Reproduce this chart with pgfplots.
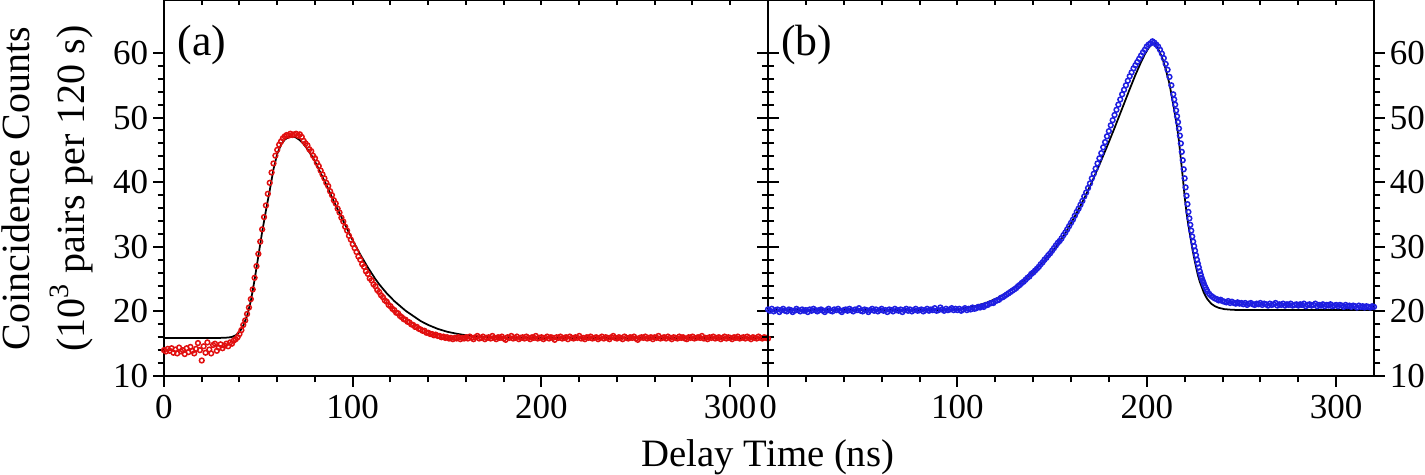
\documentclass[border=0pt]{standalone}
\usepackage{fontspec}
\setmainfont{Liberation Serif}
\usepackage{pgfplots}
\pgfplotsset{compat=1.18}

\definecolor{dred}{RGB}{225,15,15}
\definecolor{dblue}{RGB}{30,30,225}

\pgfplotsset{
  panel/.style={
    scale only axis, height=150.4pt,
    xmin=0, xmax=320, ymin=10, ymax=68.2,
    xtick={0,100,200,300}, minor x tick num=4,
    ytick={10,20,30,40,50,60}, minor y tick num=4,
    tick align=outside, xtick pos=bottom,
    major tick length=4.3pt, minor tick length=2.5pt,
    axis line style={line width=0.8pt},
    every tick/.style={black, line width=0.8pt},
    tick label style={font=\fontsize{14}{16}\selectfont},
    yticklabel style={inner sep=1.8pt},
    /pgf/number format/assume math mode=true,
    clip=true,
  },
  topticks/.style={
    scale only axis, height=150.4pt,
    xmin=0, xmax=320, ymin=10, ymax=68.2,
    xtick={0,100,200,300}, minor x tick num=4,
    xtick pos=top, tick align=inside, xticklabels={},
    major tick length=2pt, minor tick length=2pt,
    hide y axis, axis line style={line width=0.8pt},
    every tick/.style={black, line width=0.8pt},
  },
  data/.style={only marks, mark=o, mark size=0.95pt, mark options={line width=0.6pt}},
  fit/.style={black, line width=0.7pt, no marks},
}

\begin{document}
\begin{tikzpicture}
\useasboundingbox (-65.6pt,-39.6pt) rectangle (504.4pt,150.4pt);

% ---------------- panel (a) ----------------
\begin{axis}[panel, width=241.6pt, at={(0pt,0pt)}, anchor=south west]
\addplot+[data, dred] coordinates {
(0,14.0)(1,13.8)(2,14.2)(3,13.9)(4,14.3)(5,13.6)(6,14.1)(7,13.5)(8,14.4)(9,13.8)
(10,14.0)(11,13.4)(12,14.3)(13,13.7)(14,14.5)(15,13.9)(16,13.5)(17,14.2)(18,15.1)(19,14.0)
(20,12.4)(21,14.6)(22,13.6)(23,15.2)(24,14.1)(25,13.5)(26,14.8)(27,15.0)(28,13.9)(29,14.4)
(30,14.9)(31,14.3)(32,14.7)(33,15.0)(34,14.6)(35,15.2)(36,15.0)(37,15.5)(38,15.7)(39,16.0)
(40,16.5)(41,17.1)(42,17.9)(43,18.6)(44,19.6)(45,20.6)(46,21.9)(47,23.4)(48,25.2)(49,27.0)
(50,28.9)(51,30.8)(52,32.7)(53,34.6)(54,36.4)(55,38.2)(56,39.9)(57,41.5)(58,42.9)(59,44.1)
(60,45.0)(61,45.8)(62,46.3)(63,46.8)(64,47.1)(65,47.3)(66,47.2)(67,47.5)(68,47.3)(69,47.4)
(70,47.5)(71,47.2)(72,47.4)(73,47.0)(74,46.4)(75,46.0)(76,45.7)(77,45.1)(78,44.8)(79,44.1)
(80,43.7)(81,43.0)(82,42.5)(83,41.8)(84,41.2)(85,40.6)(86,39.9)(87,39.4)(88,38.6)(89,38.0)
(90,37.2)(91,36.7)(92,35.9)(93,35.3)(94,34.5)(95,33.9)(96,33.1)(97,32.5)(98,31.7)(99,31.1)
(100,30.4)(101,29.8)(102,29.2)(103,28.5)(104,28.0)(105,27.3)(106,26.9)(107,26.2)(108,25.8)(109,25.1)
(110,24.8)(111,24.2)(112,23.9)(113,23.3)(114,23.0)(115,22.5)(116,22.2)(117,21.7)(118,21.5)(119,21.0)
(120,20.8)(121,20.4)(122,20.2)(123,19.8)(124,19.7)(125,19.3)(126,19.1)(127,18.8)(128,18.7)(129,18.4)
(130,18.3)(131,18.0)(132,17.9)(133,17.6)(134,17.6)(135,17.3)(136,17.2)(137,17.0)(138,17.0)(139,16.7)
(140,16.7)(141,16.5)(142,16.5)(143,16.3)(144,16.4)(145,16.2)(146,16.2)(147,16.0)(148,16.1)(149,15.9)
(150,16.0)(151,15.8)(152,15.9)(153,15.7)(154,15.9)(155,15.8)(156,16.0)(157,15.7)(158,15.9)(159,15.8)
(160,16.0)(161,15.8)(162,16.1)(163,15.9)(164,15.7)(165,16.0)(166,16.2)(167,15.8)(168,15.9)(169,16.1)
(170,15.7)(171,15.9)(172,16.0)(173,15.8)(174,16.2)(175,15.9)(176,15.7)(177,16.0)(178,15.9)(179,16.1)
(180,15.8)(181,15.6)(182,16.0)(183,15.9)(184,16.2)(185,15.8)(186,15.9)(187,16.1)(188,15.7)(189,15.9)
(190,16.0)(191,15.8)(192,16.1)(193,15.9)(194,15.7)(195,16.0)(196,15.9)(197,16.2)(198,15.8)(199,15.9)
(200,16.0)(201,15.7)(202,15.9)(203,16.1)(204,15.8)(205,16.0)(206,15.9)(207,15.6)(208,16.0)(209,15.9)
(210,16.1)(211,15.8)(212,15.9)(213,16.0)(214,15.7)(215,16.1)(216,15.9)(217,15.8)(218,16.0)(219,15.9)
(220,16.2)(221,15.8)(222,15.9)(223,15.7)(224,16.0)(225,15.9)(226,16.1)(227,15.8)(228,15.9)(229,16.0)
(230,15.7)(231,15.9)(232,16.1)(233,15.8)(234,16.0)(235,15.9)(236,15.7)(237,16.0)(238,16.2)(239,15.9)
(240,15.8)(241,16.0)(242,15.9)(243,15.7)(244,16.1)(245,15.9)(246,15.8)(247,16.0)(248,15.9)(249,16.1)
(250,15.8)(251,15.6)(252,15.9)(253,16.0)(254,15.9)(255,16.1)(256,15.8)(257,15.9)(258,16.0)(259,15.7)
(260,16.0)(261,15.9)(262,16.2)(263,15.8)(264,15.9)(265,16.0)(266,15.8)(267,16.1)(268,15.9)(269,15.7)
(270,16.0)(271,15.9)(272,15.8)(273,16.1)(274,15.9)(275,16.0)(276,15.8)(277,15.7)(278,16.0)(279,15.9)
(280,16.1)(281,15.8)(282,15.9)(283,16.0)(284,15.9)(285,16.2)(286,15.8)(287,15.9)(288,15.7)(289,16.0)
(290,15.9)(291,16.1)(292,15.8)(293,15.9)(294,16.0)(295,15.7)(296,15.9)(297,16.1)(298,15.8)(299,16.0)
(300,15.9)(301,15.7)(302,16.0)(303,15.9)(304,16.1)(305,15.8)(306,15.9)(307,16.0)(308,15.8)(309,16.1)
(310,15.9)(311,15.7)(312,16.0)(313,15.9)(314,15.8)(315,16.1)(316,15.9)(317,15.8)(318,16.0)(319,15.9)
(320,15.8)
};
\addplot[fit] coordinates {
(0,15.9)(30,15.9)(34,15.95)(36,16.05)(38,16.3)(40,16.8)(42,17.8)(44,19.3)(46,21.6)(48,24.9)
(50,28.6)(52,32.3)(54,35.6)(56,38.7)(58,42.0)(60,44.4)(62,45.8)(64,46.6)(66,46.95)(68,47.1)
(70,46.9)(72,46.5)(74,45.9)(76,45.1)(78,44.2)(80,43.2)(82,42.0)(84,40.8)(86,39.6)(88,38.3)
(90,37.0)(92,35.8)(94,34.6)(96,33.4)(98,32.2)(100,31.0)(102,29.9)(104,28.8)(106,27.8)(108,26.8)
(110,25.9)(112,25.0)(114,24.2)(116,23.5)(118,22.8)(120,22.2)(122,21.6)(124,21.1)(126,20.6)(128,20.1)
(130,19.7)(133,19.1)(136,18.5)(140,17.9)(145,17.3)(150,16.85)(155,16.55)(160,16.3)(165,16.15)(170,16.05)
(180,15.95)(190,15.9)(320,15.9)
};
\node[anchor=west, inner sep=0pt, font=\fontsize{17.5}{20}\selectfont]
  at (rel axis cs:0,1) [xshift=5.4pt, yshift=-18pt] {(a)};
\end{axis}
\begin{axis}[topticks, width=241.6pt, at={(0pt,0pt)}, anchor=south west]
\addplot[draw=none] coordinates {(0,10)};
\end{axis}

% ---------------- panel (b) ----------------
\begin{axis}[panel, width=242.4pt, at={(241.6pt,0pt)}, anchor=south west,
  yticklabel pos=right]
\addplot+[data, dblue] coordinates {
(0,20.3)(1,20.1)(2,20.4)(3,20.0)(4,20.2)(5,20.3)(6,19.9)(7,20.2)(8,20.4)(9,20.1)
(10,20.0)(11,20.3)(12,20.2)(13,19.9)(14,20.1)(15,20.4)(16,20.2)(17,20.0)(18,20.3)(19,20.1)
(20,20.2)(21,19.9)(22,20.3)(23,20.1)(24,20.4)(25,20.2)(26,20.0)(27,20.2)(28,20.3)(29,20.1)
(30,19.9)(31,20.2)(32,20.4)(33,20.1)(34,20.0)(35,20.3)(36,20.2)(37,20.4)(38,20.1)(39,19.9)
(40,20.2)(41,20.3)(42,20.1)(43,20.4)(44,20.2)(45,20.0)(46,20.3)(47,20.2)(48,20.5)(49,20.1)
(50,20.0)(51,20.3)(52,20.2)(53,19.9)(54,20.2)(55,20.4)(56,20.1)(57,20.3)(58,20.0)(59,20.2)
(60,20.4)(61,20.1)(62,20.2)(63,19.9)(64,20.3)(65,20.2)(66,20.0)(67,20.4)(68,20.2)(69,20.1)
(70,20.3)(71,19.9)(72,20.2)(73,20.4)(74,20.1)(75,20.3)(76,20.0)(77,20.2)(78,20.4)(79,20.1)
(80,20.2)(81,20.3)(82,20.0)(83,20.2)(84,20.4)(85,20.1)(86,20.3)(87,20.2)(88,20.5)(89,20.1)
(90,20.2)(91,20.6)(92,20.3)(93,20.1)(94,20.4)(95,20.2)(96,20.3)(97,20.5)(98,20.2)(99,20.4)
(100,20.2)(101,20.4)(102,20.1)(103,20.3)(104,20.5)(105,20.2)(106,20.4)(107,20.3)(108,20.6)(109,20.4)
(110,20.5)(111,20.7)(112,20.6)(113,20.8)(114,20.7)(115,21.0)(116,21.0)(117,21.2)(118,21.3)(119,21.3)
(120,21.6)(121,21.7)(122,21.8)(123,22.1)(124,22.2)(125,22.4)(126,22.6)(127,22.8)(128,23.0)(129,23.2)
(130,23.4)(131,23.6)(132,23.9)(133,24.1)(134,24.4)(135,24.6)(136,24.9)(137,25.2)(138,25.4)(139,25.8)
(140,26.0)(141,26.3)(142,26.6)(143,26.9)(144,27.3)(145,27.6)(146,28.0)(147,28.3)(148,28.7)(149,29.0)
(150,29.4)(151,29.8)(152,30.2)(153,30.6)(154,30.9)(155,31.3)(156,31.8)(157,32.2)(158,32.7)(159,33.2)
(160,33.7)(161,34.2)(162,34.8)(163,35.4)(164,35.9)(165,36.5)(166,37.1)(167,37.8)(168,38.4)(169,39.1)
(170,39.8)(171,40.6)(172,41.3)(173,42.1)(174,42.9)(175,43.7)(176,44.5)(177,45.4)(178,46.2)(179,47.1)
(180,47.9)(181,48.8)(182,49.6)(183,50.4)(184,51.2)(185,52.0)(186,52.8)(187,53.6)(188,54.3)(189,55.0)
(190,55.7)(191,56.4)(192,57.0)(193,57.6)(194,58.1)(195,58.6)(196,59.1)(197,59.6)(198,60.1)(199,60.5)
(200,61.0)(201,61.3)(202,61.5)(203,61.8)(204,61.6)(205,61.3)(206,61.0)(207,60.5)(208,59.9)(209,59.2)
(210,58.3)(211,57.4)(212,56.3)(213,55.0)(214,53.6)(214.5,52.8)(215,52.0)(215.5,51.1)(216,50.2)(216.5,49.3)
(217,48.3)(217.5,47.2)(218,46.0)(218.5,44.7)(219,43.4)(219.5,42.0)(220,40.6)(220.5,39.2)(221,37.9)(221.5,36.6)
(222,35.4)(222.5,34.4)(223,33.4)(223.5,32.5)(224,31.6)(224.5,30.8)(225,30.1)(225.5,29.4)(226,28.7)(226.5,28.0)
(227,27.4)(227.5,26.8)(228,26.2)(228.5,25.7)(229,25.2)(229.5,24.8)(230,24.4)(230.5,24.0)(231,23.7)(231.5,23.4)
(232,23.1)(233,22.7)(234,22.4)(235,22.2)(236,22.0)(237,21.9)(238,21.7)(239,21.8)(240,21.6)(241,21.5)
(242,21.4)(243,21.6)(244,21.3)(245,21.5)(246,21.3)(247,21.2)(248,21.4)(249,21.2)(250,21.3)(251,21.1)
(252,21.3)(253,21.0)(254,21.2)(255,21.3)(256,21.1)(257,21.0)(258,21.2)(259,21.1)(260,21.3)(261,21.0)
(262,21.2)(263,21.1)(264,20.9)(265,21.2)(266,21.0)(267,21.1)(268,21.3)(269,20.9)(270,21.1)(271,21.0)
(272,21.2)(273,20.9)(274,21.1)(275,21.0)(276,21.2)(277,20.9)(278,21.0)(279,21.1)(280,20.9)(281,21.1)
(282,21.0)(283,21.2)(284,20.8)(285,21.0)(286,21.1)(287,20.9)(288,21.0)(289,21.2)(290,20.8)(291,21.0)
(292,20.9)(293,21.1)(294,20.8)(295,21.0)(296,20.9)(297,21.1)(298,20.8)(299,20.9)(300,21.0)(301,20.8)
(302,21.0)(303,20.9)(304,20.7)(305,21.0)(306,20.8)(307,20.9)(308,20.7)(309,20.9)(310,20.8)(311,20.6)
(312,20.9)(313,20.7)(314,20.8)(315,20.6)(316,20.8)(317,20.7)(318,20.6)(319,20.8)(320,20.7)
};
\addplot[fit] coordinates {
(0,20.2)(90,20.2)(100,20.35)(108,20.7)(115,21.3)(120,21.9)(125,22.7)(130,23.7)(136,25.0)(141,26.4)
(147,28.2)(152,30.0)(157,32.1)(162,34.7)(167,37.5)(171,40.0)(175,42.7)(179,45.5)(183,48.4)(187,51.4)
(191,54.4)(194,56.6)(197,58.6)(199,59.8)(201,60.8)(203,61.4)(204,61.5)(205,61.2)(206,60.6)(208,59.4)
(210,57.5)(212,55.2)(214,52.0)(216,48.6)(217,46.4)(218,43.6)(219,40.8)(220,37.8)(221,35.3)(222,33.3)
(223,31.6)(224,29.8)(225,28.3)(226,26.9)(227,25.6)(228,24.6)(229,23.8)(230,23.0)(231,22.4)(232,21.9)
(234,21.2)(236,20.8)(238,20.55)(241,20.35)(245,20.25)(250,20.2)(320,20.2)
};
\node[anchor=west, inner sep=0pt, font=\fontsize{17.5}{20}\selectfont]
  at (rel axis cs:0,1) [xshift=5.0pt, yshift=-18pt] {(b)};
\end{axis}
\begin{axis}[topticks, width=242.4pt, at={(241.6pt,0pt)}, anchor=south west]
\addplot[draw=none] coordinates {(0,10)};
\end{axis}

% shared labels
\node[anchor=base, inner sep=0pt, font=\fontsize{15.5}{18}\selectfont]
  at (241.6pt,-36pt) {Delay Time (ns)};
\node[anchor=north, rotate=90, inner sep=0pt, align=center,
  font=\fontsize{16}{22}\selectfont]
  at (-65.1pt,75pt) {Coincidence Counts\\(10\textsuperscript{3} pairs per 120 s)};
\end{tikzpicture}
\end{document}
